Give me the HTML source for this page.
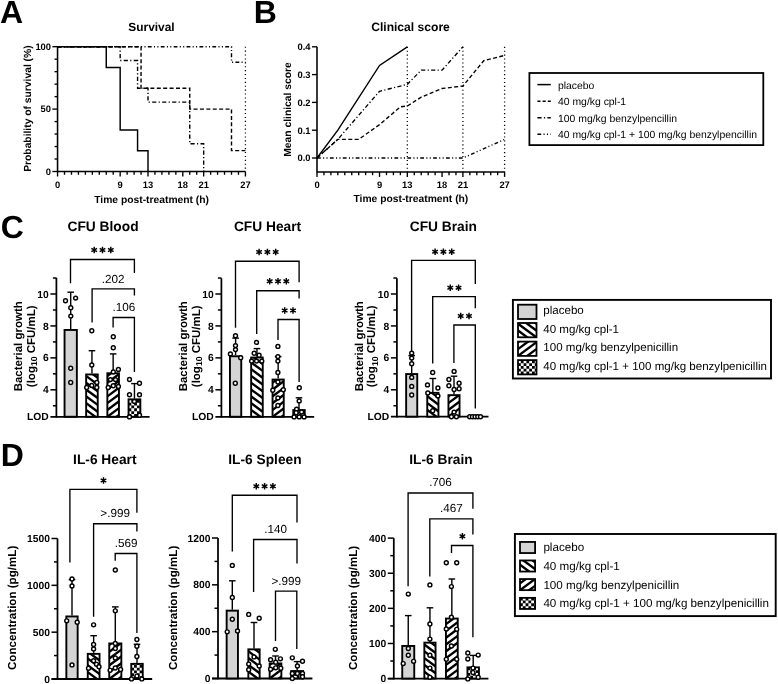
<!DOCTYPE html>
<html><head><meta charset="utf-8"><title>Figure</title>
<style>
html,body{margin:0;padding:0;background:#fff;width:778px;height:684px;overflow:hidden}
svg{display:block;filter:grayscale(1)}
text{font-family:"Liberation Sans",sans-serif;fill:#000;stroke:none;text-rendering:geometricPrecision}
</style></head><body>
<svg width="778" height="684" viewBox="0 0 778 684" stroke="#000" stroke-linecap="butt">

<rect width="778" height="684" fill="#fff" stroke="none"/>
<g>
<text x="0" y="22.9" text-anchor="start" style="font-size:32px;font-weight:bold" >A</text>
<text x="253.8" y="22.9" text-anchor="start" style="font-size:32px;font-weight:bold" >B</text>
<text x="0.8" y="238.1" text-anchor="start" style="font-size:32px;font-weight:bold" >C</text>
<text x="0.7" y="465.7" text-anchor="start" style="font-size:32px;font-weight:bold" >D</text>
<line x1="57.55" y1="46.7" x2="57.55" y2="172.2" stroke-width="1.55" />
<line x1="52.35" y1="171.5" x2="57.55" y2="171.5" stroke-width="1.35" />
<text x="51.05" y="174.8" text-anchor="end" style="font-size:9.4px;font-weight:bold" >0</text>
<line x1="54.55" y1="159.02" x2="57.55" y2="159.02" stroke-width="1.35" />
<line x1="54.55" y1="146.54" x2="57.55" y2="146.54" stroke-width="1.35" />
<line x1="54.55" y1="134.06" x2="57.55" y2="134.06" stroke-width="1.35" />
<line x1="54.55" y1="121.58" x2="57.55" y2="121.58" stroke-width="1.35" />
<line x1="52.35" y1="109.1" x2="57.55" y2="109.1" stroke-width="1.35" />
<text x="51.05" y="112.4" text-anchor="end" style="font-size:9.4px;font-weight:bold" >50</text>
<line x1="54.55" y1="96.62" x2="57.55" y2="96.62" stroke-width="1.35" />
<line x1="54.55" y1="84.14" x2="57.55" y2="84.14" stroke-width="1.35" />
<line x1="54.55" y1="71.66" x2="57.55" y2="71.66" stroke-width="1.35" />
<line x1="54.55" y1="59.18" x2="57.55" y2="59.18" stroke-width="1.35" />
<line x1="52.35" y1="46.7" x2="57.55" y2="46.7" stroke-width="1.35" />
<text x="51.05" y="50" text-anchor="end" style="font-size:9.4px;font-weight:bold" >100</text>
<line x1="57.55" y1="171.5" x2="245.42" y2="171.5" stroke-width="1.55" />
<line x1="57.55" y1="171.5" x2="57.55" y2="176.5" stroke-width="1.35" />
<text x="57.55" y="187.8" text-anchor="middle" style="font-size:9.4px;font-weight:bold" >0</text>
<line x1="64.51" y1="171.5" x2="64.51" y2="174.8" stroke-width="1.35" />
<line x1="71.47" y1="171.5" x2="71.47" y2="174.8" stroke-width="1.35" />
<line x1="78.42" y1="171.5" x2="78.42" y2="174.8" stroke-width="1.35" />
<line x1="85.38" y1="171.5" x2="85.38" y2="174.8" stroke-width="1.35" />
<line x1="92.34" y1="171.5" x2="92.34" y2="174.8" stroke-width="1.35" />
<line x1="99.3" y1="171.5" x2="99.3" y2="174.8" stroke-width="1.35" />
<line x1="106.26" y1="171.5" x2="106.26" y2="174.8" stroke-width="1.35" />
<line x1="113.21" y1="171.5" x2="113.21" y2="174.8" stroke-width="1.35" />
<line x1="120.17" y1="171.5" x2="120.17" y2="176.5" stroke-width="1.35" />
<text x="120.17" y="187.8" text-anchor="middle" style="font-size:9.4px;font-weight:bold" >9</text>
<line x1="127.13" y1="171.5" x2="127.13" y2="174.8" stroke-width="1.35" />
<line x1="134.09" y1="171.5" x2="134.09" y2="174.8" stroke-width="1.35" />
<line x1="141.05" y1="171.5" x2="141.05" y2="174.8" stroke-width="1.35" />
<line x1="148" y1="171.5" x2="148" y2="176.5" stroke-width="1.35" />
<text x="148" y="187.8" text-anchor="middle" style="font-size:9.4px;font-weight:bold" >13</text>
<line x1="154.96" y1="171.5" x2="154.96" y2="174.8" stroke-width="1.35" />
<line x1="161.92" y1="171.5" x2="161.92" y2="174.8" stroke-width="1.35" />
<line x1="168.88" y1="171.5" x2="168.88" y2="174.8" stroke-width="1.35" />
<line x1="175.84" y1="171.5" x2="175.84" y2="174.8" stroke-width="1.35" />
<line x1="182.79" y1="171.5" x2="182.79" y2="176.5" stroke-width="1.35" />
<text x="182.79" y="187.8" text-anchor="middle" style="font-size:9.4px;font-weight:bold" >18</text>
<line x1="189.75" y1="171.5" x2="189.75" y2="174.8" stroke-width="1.35" />
<line x1="196.71" y1="171.5" x2="196.71" y2="174.8" stroke-width="1.35" />
<line x1="203.67" y1="171.5" x2="203.67" y2="176.5" stroke-width="1.35" />
<text x="203.67" y="187.8" text-anchor="middle" style="font-size:9.4px;font-weight:bold" >21</text>
<line x1="210.63" y1="171.5" x2="210.63" y2="174.8" stroke-width="1.35" />
<line x1="217.58" y1="171.5" x2="217.58" y2="174.8" stroke-width="1.35" />
<line x1="224.54" y1="171.5" x2="224.54" y2="174.8" stroke-width="1.35" />
<line x1="231.5" y1="171.5" x2="231.5" y2="174.8" stroke-width="1.35" />
<line x1="238.46" y1="171.5" x2="238.46" y2="174.8" stroke-width="1.35" />
<line x1="245.42" y1="171.5" x2="245.42" y2="176.5" stroke-width="1.35" />
<text x="245.42" y="187.8" text-anchor="middle" style="font-size:9.4px;font-weight:bold" >27</text>
<text x="151.6" y="202.6" text-anchor="middle" style="font-size:10.3px;font-weight:bold" >Time post-treatment (h)</text>
<text x="30.6" y="108.6" text-anchor="middle" style="font-size:10.3px;font-weight:bold" transform="rotate(-90 30.6 108.6)" >Probability of survival (%)</text>
<text x="151.5" y="30.6" text-anchor="middle" style="font-size:11.9px;font-weight:bold" >Survival</text>
<line x1="245.42" y1="46.7" x2="245.42" y2="171.5" stroke-width="1.3" stroke-dasharray="1.1 2.8"/>
<polyline points="57.55,46.7 231.5,46.7 231.5,62.3 245.42,62.3 245.42,62.3" fill="none" stroke-width="1.4" stroke-dasharray="3.8 2.3 1.1 2.3 1.1 2.3" />
<polyline points="57.55,46.7 120.17,46.7 120.17,60.55 137.57,60.55 137.57,88.26 148,88.26 148,102.11 189.75,102.11 189.75,143.79 203.67,143.79 203.67,171.5" fill="none" stroke-width="1.4" stroke-dasharray="4.2 2.3 1.2 2.3" />
<polyline points="57.55,46.7 141.05,46.7 141.05,88.26 189.75,88.26 189.75,109.1 231.5,109.1 231.5,150.66 245.42,150.66 245.42,150.66" fill="none" stroke-width="1.4" stroke-dasharray="4 2.4" />
<polyline points="57.55,46.7 106.26,46.7 106.26,67.54 120.17,67.54 120.17,129.94 137.57,129.94 137.57,150.66 148,150.66 148,171.5" fill="none" stroke-width="1.45" />
<line x1="317" y1="46.8" x2="317" y2="172.6" stroke-width="1.55" />
<line x1="312" y1="158" x2="317" y2="158" stroke-width="1.35" />
<text x="310.6" y="161.3" text-anchor="end" style="font-size:9.4px;font-weight:bold" >0.0</text>
<line x1="312" y1="130.2" x2="317" y2="130.2" stroke-width="1.35" />
<text x="310.6" y="133.5" text-anchor="end" style="font-size:9.4px;font-weight:bold" >0.1</text>
<line x1="312" y1="102.4" x2="317" y2="102.4" stroke-width="1.35" />
<text x="310.6" y="105.7" text-anchor="end" style="font-size:9.4px;font-weight:bold" >0.2</text>
<line x1="312" y1="74.6" x2="317" y2="74.6" stroke-width="1.35" />
<text x="310.6" y="77.9" text-anchor="end" style="font-size:9.4px;font-weight:bold" >0.3</text>
<line x1="312" y1="46.8" x2="317" y2="46.8" stroke-width="1.35" />
<text x="310.6" y="50.1" text-anchor="end" style="font-size:9.4px;font-weight:bold" >0.4</text>
<line x1="317" y1="171.9" x2="504.6" y2="171.9" stroke-width="1.55" />
<line x1="317" y1="171.9" x2="317" y2="176.9" stroke-width="1.35" />
<text x="317" y="187.8" text-anchor="middle" style="font-size:9.4px;font-weight:bold" >0</text>
<line x1="323.95" y1="171.9" x2="323.95" y2="175.2" stroke-width="1.35" />
<line x1="330.9" y1="171.9" x2="330.9" y2="175.2" stroke-width="1.35" />
<line x1="337.84" y1="171.9" x2="337.84" y2="175.2" stroke-width="1.35" />
<line x1="344.79" y1="171.9" x2="344.79" y2="175.2" stroke-width="1.35" />
<line x1="351.74" y1="171.9" x2="351.74" y2="175.2" stroke-width="1.35" />
<line x1="358.69" y1="171.9" x2="358.69" y2="175.2" stroke-width="1.35" />
<line x1="365.64" y1="171.9" x2="365.64" y2="175.2" stroke-width="1.35" />
<line x1="372.58" y1="171.9" x2="372.58" y2="175.2" stroke-width="1.35" />
<line x1="379.53" y1="171.9" x2="379.53" y2="176.9" stroke-width="1.35" />
<text x="379.53" y="187.8" text-anchor="middle" style="font-size:9.4px;font-weight:bold" >9</text>
<line x1="386.48" y1="171.9" x2="386.48" y2="175.2" stroke-width="1.35" />
<line x1="393.43" y1="171.9" x2="393.43" y2="175.2" stroke-width="1.35" />
<line x1="400.38" y1="171.9" x2="400.38" y2="175.2" stroke-width="1.35" />
<line x1="407.32" y1="171.9" x2="407.32" y2="176.9" stroke-width="1.35" />
<text x="407.32" y="187.8" text-anchor="middle" style="font-size:9.4px;font-weight:bold" >13</text>
<line x1="414.27" y1="171.9" x2="414.27" y2="175.2" stroke-width="1.35" />
<line x1="421.22" y1="171.9" x2="421.22" y2="175.2" stroke-width="1.35" />
<line x1="428.17" y1="171.9" x2="428.17" y2="175.2" stroke-width="1.35" />
<line x1="435.12" y1="171.9" x2="435.12" y2="175.2" stroke-width="1.35" />
<line x1="442.06" y1="171.9" x2="442.06" y2="176.9" stroke-width="1.35" />
<text x="442.06" y="187.8" text-anchor="middle" style="font-size:9.4px;font-weight:bold" >18</text>
<line x1="449.01" y1="171.9" x2="449.01" y2="175.2" stroke-width="1.35" />
<line x1="455.96" y1="171.9" x2="455.96" y2="175.2" stroke-width="1.35" />
<line x1="462.91" y1="171.9" x2="462.91" y2="176.9" stroke-width="1.35" />
<text x="462.91" y="187.8" text-anchor="middle" style="font-size:9.4px;font-weight:bold" >21</text>
<line x1="469.86" y1="171.9" x2="469.86" y2="175.2" stroke-width="1.35" />
<line x1="476.8" y1="171.9" x2="476.8" y2="175.2" stroke-width="1.35" />
<line x1="483.75" y1="171.9" x2="483.75" y2="175.2" stroke-width="1.35" />
<line x1="490.7" y1="171.9" x2="490.7" y2="175.2" stroke-width="1.35" />
<line x1="497.65" y1="171.9" x2="497.65" y2="175.2" stroke-width="1.35" />
<line x1="504.6" y1="171.9" x2="504.6" y2="176.9" stroke-width="1.35" />
<text x="504.6" y="187.8" text-anchor="middle" style="font-size:9.4px;font-weight:bold" >27</text>
<text x="410.9" y="202.3" text-anchor="middle" style="font-size:10.3px;font-weight:bold" >Time post-treatment (h)</text>
<text x="291.4" y="109.5" text-anchor="middle" style="font-size:10.3px;font-weight:bold" transform="rotate(-90 291.4 109.5)" >Mean clinical score</text>
<text x="410.5" y="30.9" text-anchor="middle" style="font-size:12.1px;font-weight:bold" >Clinical score</text>
<line x1="407.32" y1="46.8" x2="407.32" y2="171.9" stroke-width="1.3" stroke-dasharray="1.1 2.8"/>
<line x1="462.91" y1="46.8" x2="462.91" y2="171.9" stroke-width="1.3" stroke-dasharray="1.1 2.8"/>
<line x1="504.6" y1="46.8" x2="504.6" y2="171.9" stroke-width="1.3" stroke-dasharray="1.1 2.8"/>
<polyline points="317,158 462.91,158 504.6,139.37" fill="none" stroke-width="1.35" stroke-dasharray="3.8 2.3 1.1 2.3 1.1 2.3" />
<polyline points="317,158 337.84,139.37 379.53,91.28 407.32,84.33 421.22,70.15 442.06,70.15 462.91,46.8" fill="none" stroke-width="1.35" stroke-dasharray="4.2 2.3 1.2 2.3" />
<polyline points="317,158 337.84,139.37 358.69,139.37 379.53,124.64 400.38,106.85 407.32,106.01 421.22,97.12 442.06,88.5 462.91,86 483.75,60.7 504.6,55.42" fill="none" stroke-width="1.35" stroke-dasharray="4 2.4" />
<polyline points="317,158 337.84,130.2 379.53,65.43 407.32,46.8" fill="none" stroke-width="1.4" />
<rect x="529.4" y="73" width="233.9" height="72.1" fill="none" stroke-width="1.8"/>
<line x1="537.4" y1="84.6" x2="550.8" y2="84.6" stroke-width="1.5" />
<text x="558" y="88.6" text-anchor="start" style="font-size:10.4px" >placebo</text>
<line x1="537.4" y1="101.3" x2="550.8" y2="101.3" stroke-width="1.5" stroke-dasharray="3.1 2.1"/>
<text x="558" y="105.1" text-anchor="start" style="font-size:10.4px" >40 mg/kg cpl-1</text>
<line x1="537.4" y1="117.7" x2="550.8" y2="117.7" stroke-width="1.5" stroke-dasharray="4.2 2.3 1.2 2.3"/>
<text x="558" y="121.7" text-anchor="start" style="font-size:10.4px" >100 mg/kg benzylpencillin</text>
<line x1="537.4" y1="134.3" x2="550.8" y2="134.3" stroke-width="1.5" stroke-dasharray="3.8 2.3 1.1 2.3 1.1 2.3"/>
<text x="558" y="138" text-anchor="start" style="font-size:10.4px" >40 mg/kg cpl-1 + 100 mg/kg benzylpencillin</text>
<line x1="56.4" y1="277.8" x2="56.4" y2="417.6" stroke-width="1.75" />
<line x1="50.4" y1="416.8" x2="149.6" y2="416.8" stroke-width="1.8" />
<line x1="50.4" y1="294" x2="56.4" y2="294" stroke-width="1.5" />
<text x="48.8" y="297.6" text-anchor="end" style="font-size:10.3px;font-weight:bold" >10</text>
<line x1="50.4" y1="325.93" x2="56.4" y2="325.93" stroke-width="1.5" />
<text x="48.8" y="329.53" text-anchor="end" style="font-size:10.3px;font-weight:bold" >8</text>
<line x1="50.4" y1="357.87" x2="56.4" y2="357.87" stroke-width="1.5" />
<text x="48.8" y="361.47" text-anchor="end" style="font-size:10.3px;font-weight:bold" >6</text>
<line x1="50.4" y1="389.8" x2="56.4" y2="389.8" stroke-width="1.5" />
<text x="48.8" y="393.4" text-anchor="end" style="font-size:10.3px;font-weight:bold" >4</text>
<line x1="52.9" y1="278.03" x2="56.4" y2="278.03" stroke-width="1.5" />
<line x1="52.9" y1="309.97" x2="56.4" y2="309.97" stroke-width="1.5" />
<line x1="52.9" y1="341.9" x2="56.4" y2="341.9" stroke-width="1.5" />
<line x1="52.9" y1="373.83" x2="56.4" y2="373.83" stroke-width="1.5" />
<line x1="52.9" y1="405.77" x2="56.4" y2="405.77" stroke-width="1.5" />
<line x1="70.7" y1="329" x2="70.7" y2="292.2" stroke-width="1.4" />
<line x1="67.4" y1="292.2" x2="74" y2="292.2" stroke-width="1.4" />
<rect x="64.55" y="329.95" width="12.3" height="86.8" fill="#d4d4d4" stroke-width="1.9"/>
<line x1="91.95" y1="373.5" x2="91.95" y2="350.7" stroke-width="1.4" />
<line x1="88.65" y1="350.7" x2="95.25" y2="350.7" stroke-width="1.4" />
<clipPath id="c1"><rect x="86.15" y="374.45" width="11.6" height="42.3"/></clipPath>
<rect x="86.15" y="374.45" width="11.6" height="42.3" fill="#fff" stroke="none"/>
<path clip-path="url(#c1)" d="M84.15,435.67L99.75,447.21M84.15,428.87L99.75,440.41M84.15,422.07L99.75,433.61M84.15,415.27L99.75,426.81M84.15,408.47L99.75,420.01M84.15,401.67L99.75,413.21M84.15,394.87L99.75,406.41M84.15,388.07L99.75,399.61M84.15,381.27L99.75,392.81M84.15,374.47L99.75,386.01M84.15,367.67L99.75,379.21M84.15,360.87L99.75,372.41M84.15,354.07L99.75,365.61" stroke-width="2.35" fill="none"/>
<rect x="86.15" y="374.45" width="11.6" height="42.3" fill="none" stroke-width="1.9"/>
<line x1="113.15" y1="372.3" x2="113.15" y2="353.9" stroke-width="1.4" />
<line x1="109.85" y1="353.9" x2="116.45" y2="353.9" stroke-width="1.4" />
<clipPath id="c2"><rect x="107.35" y="373.25" width="11.6" height="43.5"/></clipPath>
<rect x="107.35" y="373.25" width="11.6" height="43.5" fill="#fff" stroke="none"/>
<path clip-path="url(#c2)" d="M105.35,438.63L120.95,427.09M105.35,431.83L120.95,420.29M105.35,425.03L120.95,413.49M105.35,418.23L120.95,406.69M105.35,411.43L120.95,399.89M105.35,404.63L120.95,393.09M105.35,397.83L120.95,386.29M105.35,391.03L120.95,379.49M105.35,384.23L120.95,372.69M105.35,377.43L120.95,365.89M105.35,370.63L120.95,359.09M105.35,363.83L120.95,352.29M105.35,357.03L120.95,345.49" stroke-width="2.35" fill="none"/>
<rect x="107.35" y="373.25" width="11.6" height="43.5" fill="none" stroke-width="1.9"/>
<line x1="134.45" y1="398.4" x2="134.45" y2="383.6" stroke-width="1.4" />
<line x1="131.15" y1="383.6" x2="137.75" y2="383.6" stroke-width="1.4" />
<clipPath id="c3"><rect x="128.55" y="399.35" width="11.8" height="17.4"/></clipPath>
<rect x="128.55" y="399.35" width="11.8" height="17.4" fill="#fff" stroke="none"/>
<path clip-path="url(#c3)" d="M125.75,394.35h2.8v2.8h-2.8zM131.35,394.35h2.8v2.8h-2.8zM136.95,394.35h2.8v2.8h-2.8zM128.55,397.15h2.8v2.8h-2.8zM134.15,397.15h2.8v2.8h-2.8zM139.75,397.15h2.8v2.8h-2.8zM125.75,399.95h2.8v2.8h-2.8zM131.35,399.95h2.8v2.8h-2.8zM136.95,399.95h2.8v2.8h-2.8zM128.55,402.75h2.8v2.8h-2.8zM134.15,402.75h2.8v2.8h-2.8zM139.75,402.75h2.8v2.8h-2.8zM125.75,405.55h2.8v2.8h-2.8zM131.35,405.55h2.8v2.8h-2.8zM136.95,405.55h2.8v2.8h-2.8zM128.55,408.35h2.8v2.8h-2.8zM134.15,408.35h2.8v2.8h-2.8zM139.75,408.35h2.8v2.8h-2.8zM125.75,411.15h2.8v2.8h-2.8zM131.35,411.15h2.8v2.8h-2.8zM136.95,411.15h2.8v2.8h-2.8zM128.55,413.95h2.8v2.8h-2.8zM134.15,413.95h2.8v2.8h-2.8zM139.75,413.95h2.8v2.8h-2.8z" fill="#000" stroke="none"/>
<rect x="128.55" y="399.35" width="11.8" height="17.4" fill="none" stroke-width="1.9"/>
<circle cx="65.5" cy="300.7" r="1.95" fill="#fff" stroke-width="1.45"/>
<circle cx="75.6" cy="298.1" r="1.95" fill="#fff" stroke-width="1.45"/>
<circle cx="70.8" cy="307.7" r="1.95" fill="#fff" stroke-width="1.45"/>
<circle cx="70.8" cy="316.1" r="1.95" fill="#fff" stroke-width="1.45"/>
<circle cx="70.7" cy="368.2" r="1.95" fill="#fff" stroke-width="1.45"/>
<circle cx="70.7" cy="382.5" r="1.95" fill="#fff" stroke-width="1.45"/>
<circle cx="91.8" cy="330.7" r="1.95" fill="#fff" stroke-width="1.45"/>
<circle cx="91.8" cy="365" r="1.95" fill="#fff" stroke-width="1.45"/>
<circle cx="86.7" cy="387.5" r="1.95" fill="#fff" stroke-width="1.45"/>
<circle cx="91.8" cy="385.4" r="1.95" fill="#fff" stroke-width="1.45"/>
<circle cx="96.8" cy="382.5" r="1.95" fill="#fff" stroke-width="1.45"/>
<circle cx="96.8" cy="387.5" r="1.95" fill="#fff" stroke-width="1.45"/>
<circle cx="113.3" cy="336.8" r="1.95" fill="#fff" stroke-width="1.45"/>
<circle cx="113.3" cy="347.8" r="1.95" fill="#fff" stroke-width="1.45"/>
<circle cx="113.3" cy="371.9" r="1.95" fill="#fff" stroke-width="1.45"/>
<circle cx="118.4" cy="369.4" r="1.95" fill="#fff" stroke-width="1.45"/>
<circle cx="110.4" cy="379.6" r="1.95" fill="#fff" stroke-width="1.45"/>
<circle cx="115.5" cy="379.6" r="1.95" fill="#fff" stroke-width="1.45"/>
<circle cx="108.2" cy="387.5" r="1.95" fill="#fff" stroke-width="1.45"/>
<circle cx="113.3" cy="385.7" r="1.95" fill="#fff" stroke-width="1.45"/>
<circle cx="118.4" cy="386.5" r="1.95" fill="#fff" stroke-width="1.45"/>
<circle cx="129.5" cy="379.5" r="1.95" fill="#fff" stroke-width="1.45"/>
<circle cx="139.5" cy="383.3" r="1.95" fill="#fff" stroke-width="1.45"/>
<circle cx="129.5" cy="394.7" r="1.95" fill="#fff" stroke-width="1.45"/>
<circle cx="139.5" cy="394.7" r="1.95" fill="#fff" stroke-width="1.45"/>
<circle cx="134.4" cy="401.4" r="1.95" fill="#fff" stroke-width="1.45"/>
<circle cx="129.5" cy="416.9" r="1.95" fill="#fff" stroke-width="1.45"/>
<circle cx="139.5" cy="415.3" r="1.95" fill="#fff" stroke-width="1.45"/>
<polyline points="70.5,283.3 70.5,259.5 134.4,259.5 134.4,273" fill="none" stroke-width="1.35" />
<path d="M94.2,246.85L94.2,253.35M91.39,248.47L97.01,251.72M91.39,251.72L97.01,248.47" stroke-width="1.45" fill="none"/><circle cx="94.2" cy="250.1" r="1.05" stroke="none"/>
<path d="M102.5,246.85L102.5,253.35M99.69,248.47L105.31,251.72M99.69,251.72L105.31,248.47" stroke-width="1.45" fill="none"/><circle cx="102.5" cy="250.1" r="1.05" stroke="none"/>
<path d="M110.8,246.85L110.8,253.35M107.99,248.47L113.61,251.72M107.99,251.72L113.61,248.47" stroke-width="1.45" fill="none"/><circle cx="110.8" cy="250.1" r="1.05" stroke="none"/>
<polyline points="92.1,322.5 92.1,288.9 134.4,288.9 134.4,295.5" fill="none" stroke-width="1.35" />
<text x="113.2" y="282.6" text-anchor="middle" style="font-size:11.7px" >.202</text>
<polyline points="113.1,327.5 113.1,317.5 134.4,317.5 134.4,372" fill="none" stroke-width="1.35" />
<text x="123.8" y="310.9" text-anchor="middle" style="font-size:11.7px" >.106</text>
<text x="103.05" y="230.8" text-anchor="middle" style="font-size:13.75px;font-weight:bold" >CFU Blood</text>
<line x1="221.4" y1="278.2" x2="221.4" y2="417.6" stroke-width="1.75" />
<line x1="215.4" y1="416.8" x2="314.2" y2="416.8" stroke-width="1.8" />
<line x1="215.4" y1="294" x2="221.4" y2="294" stroke-width="1.5" />
<text x="213.8" y="297.6" text-anchor="end" style="font-size:10.3px;font-weight:bold" >10</text>
<line x1="215.4" y1="325.93" x2="221.4" y2="325.93" stroke-width="1.5" />
<text x="213.8" y="329.53" text-anchor="end" style="font-size:10.3px;font-weight:bold" >8</text>
<line x1="215.4" y1="357.87" x2="221.4" y2="357.87" stroke-width="1.5" />
<text x="213.8" y="361.47" text-anchor="end" style="font-size:10.3px;font-weight:bold" >6</text>
<line x1="215.4" y1="389.8" x2="221.4" y2="389.8" stroke-width="1.5" />
<text x="213.8" y="393.4" text-anchor="end" style="font-size:10.3px;font-weight:bold" >4</text>
<line x1="217.9" y1="278.03" x2="221.4" y2="278.03" stroke-width="1.5" />
<line x1="217.9" y1="309.97" x2="221.4" y2="309.97" stroke-width="1.5" />
<line x1="217.9" y1="341.9" x2="221.4" y2="341.9" stroke-width="1.5" />
<line x1="217.9" y1="373.83" x2="221.4" y2="373.83" stroke-width="1.5" />
<line x1="217.9" y1="405.77" x2="221.4" y2="405.77" stroke-width="1.5" />
<line x1="235.6" y1="355.3" x2="235.6" y2="338.1" stroke-width="1.4" />
<line x1="232.3" y1="338.1" x2="238.9" y2="338.1" stroke-width="1.4" />
<rect x="229.95" y="356.25" width="11.3" height="60.5" fill="#d4d4d4" stroke-width="1.9"/>
<line x1="256.95" y1="356.6" x2="256.95" y2="348.6" stroke-width="1.4" />
<line x1="253.65" y1="348.6" x2="260.25" y2="348.6" stroke-width="1.4" />
<clipPath id="c4"><rect x="251.15" y="357.55" width="11.6" height="59.2"/></clipPath>
<rect x="251.15" y="357.55" width="11.6" height="59.2" fill="#fff" stroke="none"/>
<path clip-path="url(#c4)" d="M249.15,435.67L264.75,447.21M249.15,428.87L264.75,440.41M249.15,422.07L264.75,433.61M249.15,415.27L264.75,426.81M249.15,408.47L264.75,420.01M249.15,401.67L264.75,413.21M249.15,394.87L264.75,406.41M249.15,388.07L264.75,399.61M249.15,381.27L264.75,392.81M249.15,374.47L264.75,386.01M249.15,367.67L264.75,379.21M249.15,360.87L264.75,372.41M249.15,354.07L264.75,365.61M249.15,347.27L264.75,358.81M249.15,340.47L264.75,352.01" stroke-width="2.35" fill="none"/>
<rect x="251.15" y="357.55" width="11.6" height="59.2" fill="none" stroke-width="1.9"/>
<line x1="278.15" y1="378.6" x2="278.15" y2="356.6" stroke-width="1.4" />
<line x1="274.85" y1="356.6" x2="281.45" y2="356.6" stroke-width="1.4" />
<clipPath id="c5"><rect x="272.55" y="379.55" width="11.2" height="37.2"/></clipPath>
<rect x="272.55" y="379.55" width="11.2" height="37.2" fill="#fff" stroke="none"/>
<path clip-path="url(#c5)" d="M270.55,438.63L285.75,427.38M270.55,431.83L285.75,420.58M270.55,425.03L285.75,413.78M270.55,418.23L285.75,406.98M270.55,411.43L285.75,400.18M270.55,404.63L285.75,393.38M270.55,397.83L285.75,386.58M270.55,391.03L285.75,379.78M270.55,384.23L285.75,372.98M270.55,377.43L285.75,366.18M270.55,370.63L285.75,359.38M270.55,363.83L285.75,352.58" stroke-width="2.35" fill="none"/>
<rect x="272.55" y="379.55" width="11.2" height="37.2" fill="none" stroke-width="1.9"/>
<line x1="299" y1="409.1" x2="299" y2="397.8" stroke-width="1.4" />
<line x1="295.7" y1="397.8" x2="302.3" y2="397.8" stroke-width="1.4" />
<clipPath id="c6"><rect x="293.25" y="410.05" width="11.5" height="6.7"/></clipPath>
<rect x="293.25" y="410.05" width="11.5" height="6.7" fill="#fff" stroke="none"/>
<path clip-path="url(#c6)" d="M290.45,405.55h2.8v2.8h-2.8zM296.05,405.55h2.8v2.8h-2.8zM301.65,405.55h2.8v2.8h-2.8zM293.25,408.35h2.8v2.8h-2.8zM298.85,408.35h2.8v2.8h-2.8zM304.45,408.35h2.8v2.8h-2.8zM290.45,411.15h2.8v2.8h-2.8zM296.05,411.15h2.8v2.8h-2.8zM301.65,411.15h2.8v2.8h-2.8zM293.25,413.95h2.8v2.8h-2.8zM298.85,413.95h2.8v2.8h-2.8zM304.45,413.95h2.8v2.8h-2.8z" fill="#000" stroke="none"/>
<rect x="293.25" y="410.05" width="11.5" height="6.7" fill="none" stroke-width="1.9"/>
<circle cx="235.5" cy="335.8" r="1.95" fill="#fff" stroke-width="1.45"/>
<circle cx="235.5" cy="345.6" r="1.95" fill="#fff" stroke-width="1.45"/>
<circle cx="235.5" cy="349.6" r="1.95" fill="#fff" stroke-width="1.45"/>
<circle cx="230.4" cy="353.9" r="1.95" fill="#fff" stroke-width="1.45"/>
<circle cx="240.7" cy="357.8" r="1.95" fill="#fff" stroke-width="1.45"/>
<circle cx="235.3" cy="383.3" r="1.95" fill="#fff" stroke-width="1.45"/>
<circle cx="256.5" cy="342.4" r="1.95" fill="#fff" stroke-width="1.45"/>
<circle cx="254.2" cy="353.2" r="1.95" fill="#fff" stroke-width="1.45"/>
<circle cx="259.1" cy="355.2" r="1.95" fill="#fff" stroke-width="1.45"/>
<circle cx="251.6" cy="361.1" r="1.95" fill="#fff" stroke-width="1.45"/>
<circle cx="256.5" cy="361.1" r="1.95" fill="#fff" stroke-width="1.45"/>
<circle cx="261.8" cy="361.1" r="1.95" fill="#fff" stroke-width="1.45"/>
<circle cx="277.9" cy="346.4" r="1.95" fill="#fff" stroke-width="1.45"/>
<circle cx="277.9" cy="356.6" r="1.95" fill="#fff" stroke-width="1.45"/>
<circle cx="277.9" cy="361.1" r="1.95" fill="#fff" stroke-width="1.45"/>
<circle cx="277.9" cy="372.5" r="1.95" fill="#fff" stroke-width="1.45"/>
<circle cx="277.9" cy="382" r="1.95" fill="#fff" stroke-width="1.45"/>
<circle cx="272.8" cy="390.3" r="1.95" fill="#fff" stroke-width="1.45"/>
<circle cx="283.3" cy="389.7" r="1.95" fill="#fff" stroke-width="1.45"/>
<circle cx="277.9" cy="397.9" r="1.95" fill="#fff" stroke-width="1.45"/>
<circle cx="277.9" cy="405.5" r="1.95" fill="#fff" stroke-width="1.45"/>
<circle cx="299.3" cy="387.8" r="1.95" fill="#fff" stroke-width="1.45"/>
<circle cx="299.2" cy="400.9" r="1.95" fill="#fff" stroke-width="1.45"/>
<circle cx="296.6" cy="409.1" r="1.95" fill="#fff" stroke-width="1.45"/>
<circle cx="296.2" cy="412.7" r="1.95" fill="#fff" stroke-width="1.45"/>
<circle cx="301.6" cy="412" r="1.95" fill="#fff" stroke-width="1.45"/>
<circle cx="294.1" cy="416.9" r="1.95" fill="#fff" stroke-width="1.45"/>
<circle cx="299.2" cy="416.9" r="1.95" fill="#fff" stroke-width="1.45"/>
<circle cx="304.1" cy="416.9" r="1.95" fill="#fff" stroke-width="1.45"/>
<polyline points="235.5,327.8 235.5,261.2 299.1,261.2 299.1,282.2" fill="none" stroke-width="1.35" />
<path d="M259.1,248.75L259.1,255.25M256.29,250.38L261.91,253.62M256.29,253.62L261.91,250.38" stroke-width="1.45" fill="none"/><circle cx="259.1" cy="252" r="1.05" stroke="none"/>
<path d="M267.4,248.75L267.4,255.25M264.59,250.38L270.21,253.62M264.59,253.62L270.21,250.38" stroke-width="1.45" fill="none"/><circle cx="267.4" cy="252" r="1.05" stroke="none"/>
<path d="M275.7,248.75L275.7,255.25M272.89,250.38L278.51,253.62M272.89,253.62L278.51,250.38" stroke-width="1.45" fill="none"/><circle cx="275.7" cy="252" r="1.05" stroke="none"/>
<polyline points="256.7,334.1 256.7,290.7 299.1,290.7 299.1,298.4" fill="none" stroke-width="1.35" />
<path d="M269.7,277.95L269.7,284.45M266.89,279.57L272.51,282.82M266.89,282.82L272.51,279.57" stroke-width="1.45" fill="none"/><circle cx="269.7" cy="281.2" r="1.05" stroke="none"/>
<path d="M278,277.95L278,284.45M275.19,279.57L280.81,282.82M275.19,282.82L280.81,279.57" stroke-width="1.45" fill="none"/><circle cx="278" cy="281.2" r="1.05" stroke="none"/>
<path d="M286.3,277.95L286.3,284.45M283.49,279.57L289.11,282.82M283.49,282.82L289.11,279.57" stroke-width="1.45" fill="none"/><circle cx="286.3" cy="281.2" r="1.05" stroke="none"/>
<polyline points="278,340 278,319.5 299.1,319.5 299.1,382" fill="none" stroke-width="1.35" />
<path d="M284.7,307.35L284.7,313.85M281.89,308.98L287.51,312.23M281.89,312.23L287.51,308.98" stroke-width="1.45" fill="none"/><circle cx="284.7" cy="310.6" r="1.05" stroke="none"/>
<path d="M293,307.35L293,313.85M290.19,308.98L295.81,312.23M290.19,312.23L295.81,308.98" stroke-width="1.45" fill="none"/><circle cx="293" cy="310.6" r="1.05" stroke="none"/>
<text x="267.5" y="230.8" text-anchor="middle" style="font-size:13.75px;font-weight:bold" >CFU Heart</text>
<line x1="396.9" y1="278.2" x2="396.9" y2="417.5" stroke-width="1.75" />
<line x1="390.9" y1="416.7" x2="488.5" y2="416.7" stroke-width="1.8" />
<line x1="390.9" y1="294" x2="396.9" y2="294" stroke-width="1.5" />
<text x="389.3" y="297.6" text-anchor="end" style="font-size:10.3px;font-weight:bold" >10</text>
<line x1="390.9" y1="325.93" x2="396.9" y2="325.93" stroke-width="1.5" />
<text x="389.3" y="329.53" text-anchor="end" style="font-size:10.3px;font-weight:bold" >8</text>
<line x1="390.9" y1="357.87" x2="396.9" y2="357.87" stroke-width="1.5" />
<text x="389.3" y="361.47" text-anchor="end" style="font-size:10.3px;font-weight:bold" >6</text>
<line x1="390.9" y1="389.8" x2="396.9" y2="389.8" stroke-width="1.5" />
<text x="389.3" y="393.4" text-anchor="end" style="font-size:10.3px;font-weight:bold" >4</text>
<line x1="393.4" y1="278.03" x2="396.9" y2="278.03" stroke-width="1.5" />
<line x1="393.4" y1="309.97" x2="396.9" y2="309.97" stroke-width="1.5" />
<line x1="393.4" y1="341.9" x2="396.9" y2="341.9" stroke-width="1.5" />
<line x1="393.4" y1="373.83" x2="396.9" y2="373.83" stroke-width="1.5" />
<line x1="393.4" y1="405.77" x2="396.9" y2="405.77" stroke-width="1.5" />
<line x1="411.7" y1="373.1" x2="411.7" y2="355.6" stroke-width="1.4" />
<line x1="408.4" y1="355.6" x2="415" y2="355.6" stroke-width="1.4" />
<rect x="406.15" y="374.05" width="11.1" height="42.6" fill="#d4d4d4" stroke-width="1.9"/>
<line x1="432.85" y1="391.9" x2="432.85" y2="378.5" stroke-width="1.4" />
<line x1="429.55" y1="378.5" x2="436.15" y2="378.5" stroke-width="1.4" />
<clipPath id="c7"><rect x="427.25" y="392.85" width="11.2" height="23.8"/></clipPath>
<rect x="427.25" y="392.85" width="11.2" height="23.8" fill="#fff" stroke="none"/>
<path clip-path="url(#c7)" d="M425.25,435.57L440.45,446.82M425.25,428.77L440.45,440.02M425.25,421.97L440.45,433.22M425.25,415.17L440.45,426.42M425.25,408.37L440.45,419.62M425.25,401.57L440.45,412.82M425.25,394.77L440.45,406.02M425.25,387.97L440.45,399.22M425.25,381.17L440.45,392.42M425.25,374.37L440.45,385.62" stroke-width="2.35" fill="none"/>
<rect x="427.25" y="392.85" width="11.2" height="23.8" fill="none" stroke-width="1.9"/>
<line x1="454" y1="394.2" x2="454" y2="376.2" stroke-width="1.4" />
<line x1="450.7" y1="376.2" x2="457.3" y2="376.2" stroke-width="1.4" />
<clipPath id="c8"><rect x="448.45" y="395.15" width="11.1" height="21.5"/></clipPath>
<rect x="448.45" y="395.15" width="11.1" height="21.5" fill="#fff" stroke="none"/>
<path clip-path="url(#c8)" d="M446.45,438.53L461.55,427.36M446.45,431.73L461.55,420.56M446.45,424.93L461.55,413.76M446.45,418.13L461.55,406.96M446.45,411.33L461.55,400.16M446.45,404.53L461.55,393.36M446.45,397.73L461.55,386.56M446.45,390.93L461.55,379.76M446.45,384.13L461.55,372.96" stroke-width="2.35" fill="none"/>
<rect x="448.45" y="395.15" width="11.1" height="21.5" fill="none" stroke-width="1.9"/>
<circle cx="411.7" cy="353.1" r="1.95" fill="#fff" stroke-width="1.45"/>
<circle cx="411.7" cy="358.1" r="1.95" fill="#fff" stroke-width="1.45"/>
<circle cx="411.7" cy="363.7" r="1.95" fill="#fff" stroke-width="1.45"/>
<circle cx="411.7" cy="377.4" r="1.95" fill="#fff" stroke-width="1.45"/>
<circle cx="411.7" cy="386.4" r="1.95" fill="#fff" stroke-width="1.45"/>
<circle cx="411.7" cy="395" r="1.95" fill="#fff" stroke-width="1.45"/>
<circle cx="432.7" cy="372.5" r="1.95" fill="#fff" stroke-width="1.45"/>
<circle cx="427.5" cy="384.9" r="1.95" fill="#fff" stroke-width="1.45"/>
<circle cx="437.9" cy="388" r="1.95" fill="#fff" stroke-width="1.45"/>
<circle cx="427.8" cy="393" r="1.95" fill="#fff" stroke-width="1.45"/>
<circle cx="437.9" cy="395.9" r="1.95" fill="#fff" stroke-width="1.45"/>
<circle cx="432.7" cy="410.7" r="1.95" fill="#fff" stroke-width="1.45"/>
<circle cx="454.1" cy="371.4" r="1.95" fill="#fff" stroke-width="1.45"/>
<circle cx="448.9" cy="379.5" r="1.95" fill="#fff" stroke-width="1.45"/>
<circle cx="459.1" cy="383.2" r="1.95" fill="#fff" stroke-width="1.45"/>
<circle cx="448.9" cy="385.7" r="1.95" fill="#fff" stroke-width="1.45"/>
<circle cx="459.1" cy="388.7" r="1.95" fill="#fff" stroke-width="1.45"/>
<circle cx="454.1" cy="389.5" r="1.95" fill="#fff" stroke-width="1.45"/>
<circle cx="454.1" cy="412.1" r="1.95" fill="#fff" stroke-width="1.45"/>
<circle cx="451.4" cy="416.7" r="1.95" fill="#fff" stroke-width="1.45"/>
<circle cx="456.4" cy="416.7" r="1.95" fill="#fff" stroke-width="1.45"/>
<circle cx="469.7" cy="416.7" r="1.95" fill="#fff" stroke-width="1.45"/>
<circle cx="472.4" cy="416.7" r="1.95" fill="#fff" stroke-width="1.45"/>
<circle cx="475.1" cy="416.7" r="1.95" fill="#fff" stroke-width="1.45"/>
<circle cx="477.8" cy="416.7" r="1.95" fill="#fff" stroke-width="1.45"/>
<circle cx="480.5" cy="416.7" r="1.95" fill="#fff" stroke-width="1.45"/>
<polyline points="411.6,351.8 411.6,260.4 475.3,260.4 475.3,284.1" fill="none" stroke-width="1.35" />
<path d="M435.1,248.55L435.1,255.05M432.29,250.18L437.91,253.43M432.29,253.43L437.91,250.18" stroke-width="1.45" fill="none"/><circle cx="435.1" cy="251.8" r="1.05" stroke="none"/>
<path d="M443.4,248.55L443.4,255.05M440.59,250.18L446.21,253.43M440.59,253.43L446.21,250.18" stroke-width="1.45" fill="none"/><circle cx="443.4" cy="251.8" r="1.05" stroke="none"/>
<path d="M451.7,248.55L451.7,255.05M448.89,250.18L454.51,253.43M448.89,253.43L454.51,250.18" stroke-width="1.45" fill="none"/><circle cx="451.7" cy="251.8" r="1.05" stroke="none"/>
<polyline points="432.7,363.5 432.7,296.6 475.3,296.6 475.3,308.3" fill="none" stroke-width="1.35" />
<path d="M450.25,284.55L450.25,291.05M447.44,286.18L453.06,289.43M447.44,289.43L453.06,286.18" stroke-width="1.45" fill="none"/><circle cx="450.25" cy="287.8" r="1.05" stroke="none"/>
<path d="M458.55,284.55L458.55,291.05M455.74,286.18L461.36,289.43M455.74,289.43L461.36,286.18" stroke-width="1.45" fill="none"/><circle cx="458.55" cy="287.8" r="1.05" stroke="none"/>
<polyline points="453.9,362.9 453.9,325 475.3,325 475.3,408.4" fill="none" stroke-width="1.35" />
<path d="M460.7,312.75L460.7,319.25M457.89,314.38L463.51,317.62M457.89,317.62L463.51,314.38" stroke-width="1.45" fill="none"/><circle cx="460.7" cy="316" r="1.05" stroke="none"/>
<path d="M469,312.75L469,319.25M466.19,314.38L471.81,317.62M466.19,317.62L471.81,314.38" stroke-width="1.45" fill="none"/><circle cx="469" cy="316" r="1.05" stroke="none"/>
<text x="443.35" y="230.8" text-anchor="middle" style="font-size:13.75px;font-weight:bold" >CFU Brain</text>
<text x="22.5" y="346.3" text-anchor="middle" style="font-size:11.5px;font-weight:bold" transform="rotate(-90 22.5 346.3)" >Bacterial growth</text>
<text x="34.9" y="346.3" text-anchor="middle" style="font-size:11.5px;font-weight:bold" transform="rotate(-90 34.9 346.3)" >(log<tspan style="font-size:8.6px" dy="2.3">10</tspan><tspan dy="-2.3"> CFU/mL)</tspan></text>
<text x="48.8" y="420.4" text-anchor="end" style="font-size:10.3px;font-weight:bold" >LOD</text>
<text x="187.5" y="346.3" text-anchor="middle" style="font-size:11.5px;font-weight:bold" transform="rotate(-90 187.5 346.3)" >Bacterial growth</text>
<text x="199.9" y="346.3" text-anchor="middle" style="font-size:11.5px;font-weight:bold" transform="rotate(-90 199.9 346.3)" >(log<tspan style="font-size:8.6px" dy="2.3">10</tspan><tspan dy="-2.3"> CFU/mL)</tspan></text>
<text x="213.8" y="420.4" text-anchor="end" style="font-size:10.3px;font-weight:bold" >LOD</text>
<text x="363" y="346.3" text-anchor="middle" style="font-size:11.5px;font-weight:bold" transform="rotate(-90 363 346.3)" >Bacterial growth</text>
<text x="375.4" y="346.3" text-anchor="middle" style="font-size:11.5px;font-weight:bold" transform="rotate(-90 375.4 346.3)" >(log<tspan style="font-size:8.6px" dy="2.3">10</tspan><tspan dy="-2.3"> CFU/mL)</tspan></text>
<text x="389.3" y="420.4" text-anchor="end" style="font-size:10.3px;font-weight:bold" >LOD</text>
<rect x="512.9" y="299.9" width="258.1" height="78.6" fill="none" stroke-width="1.9"/>
<rect x="518" y="304.7" width="18.5" height="14.3" fill="#d4d4d4" stroke-width="1.8"/>
<text x="543.3" y="314.4" text-anchor="start" style="font-size:11.55px" >placebo</text>
<clipPath id="c9"><rect x="518" y="323" width="18.5" height="14.3"/></clipPath>
<rect x="518" y="323" width="18.5" height="14.3" fill="#fff" stroke="none"/>
<path clip-path="url(#c9)" d="M516,363.02L538.5,379.67M516,356.22L538.5,372.87M516,349.42L538.5,366.07M516,342.62L538.5,359.27M516,335.82L538.5,352.47M516,329.02L538.5,345.67M516,322.22L538.5,338.87M516,315.42L538.5,332.07M516,308.62L538.5,325.27M516,301.82L538.5,318.47" stroke-width="2.35" fill="none"/>
<rect x="518" y="323" width="18.5" height="14.3" fill="none" stroke-width="1.8"/>
<text x="543.3" y="332.7" text-anchor="start" style="font-size:11.55px" >40 mg/kg cpl-1</text>
<clipPath id="c10"><rect x="518" y="341.6" width="18.5" height="14.3"/></clipPath>
<rect x="518" y="341.6" width="18.5" height="14.3" fill="#fff" stroke="none"/>
<path clip-path="url(#c10)" d="M516,384.58L538.5,367.93M516,377.78L538.5,361.13M516,370.98L538.5,354.33M516,364.18L538.5,347.53M516,357.38L538.5,340.73M516,350.58L538.5,333.93M516,343.78L538.5,327.13M516,336.98L538.5,320.33M516,330.18L538.5,313.53M516,323.38L538.5,306.73" stroke-width="2.35" fill="none"/>
<rect x="518" y="341.6" width="18.5" height="14.3" fill="none" stroke-width="1.8"/>
<text x="543.3" y="350.9" text-anchor="start" style="font-size:11.55px" >100 mg/kg benzylpenicillin</text>
<clipPath id="c11"><rect x="518" y="360.1" width="18.5" height="14.3"/></clipPath>
<rect x="518" y="360.1" width="18.5" height="14.3" fill="#fff" stroke="none"/>
<path clip-path="url(#c11)" d="M515.2,354.8h2.8v2.8h-2.8zM520.8,354.8h2.8v2.8h-2.8zM526.4,354.8h2.8v2.8h-2.8zM532,354.8h2.8v2.8h-2.8zM518,357.6h2.8v2.8h-2.8zM523.6,357.6h2.8v2.8h-2.8zM529.2,357.6h2.8v2.8h-2.8zM534.8,357.6h2.8v2.8h-2.8zM515.2,360.4h2.8v2.8h-2.8zM520.8,360.4h2.8v2.8h-2.8zM526.4,360.4h2.8v2.8h-2.8zM532,360.4h2.8v2.8h-2.8zM518,363.2h2.8v2.8h-2.8zM523.6,363.2h2.8v2.8h-2.8zM529.2,363.2h2.8v2.8h-2.8zM534.8,363.2h2.8v2.8h-2.8zM515.2,366h2.8v2.8h-2.8zM520.8,366h2.8v2.8h-2.8zM526.4,366h2.8v2.8h-2.8zM532,366h2.8v2.8h-2.8zM518,368.8h2.8v2.8h-2.8zM523.6,368.8h2.8v2.8h-2.8zM529.2,368.8h2.8v2.8h-2.8zM534.8,368.8h2.8v2.8h-2.8zM515.2,371.6h2.8v2.8h-2.8zM520.8,371.6h2.8v2.8h-2.8zM526.4,371.6h2.8v2.8h-2.8zM532,371.6h2.8v2.8h-2.8z" fill="#000" stroke="none"/>
<rect x="518" y="360.1" width="18.5" height="14.3" fill="none" stroke-width="1.8"/>
<text x="543.3" y="369.5" text-anchor="start" style="font-size:11.55px" >40 mg/kg cpl-1 + 100 mg/kg benzylpenicillin</text>
<rect x="514.9" y="534" width="260.8" height="82.1" fill="none" stroke-width="1.9"/>
<rect x="520" y="541.95" width="15.1" height="11.1" fill="#d4d4d4" stroke-width="1.8"/>
<text x="543.4" y="551.3" text-anchor="start" style="font-size:11.65px" >placebo</text>
<clipPath id="c12"><rect x="520" y="560.45" width="15.1" height="11.1"/></clipPath>
<rect x="520" y="560.45" width="15.1" height="11.1" fill="#fff" stroke="none"/>
<path clip-path="url(#c12)" d="M518,597.27L537.1,611.4M518,590.47L537.1,604.6M518,583.67L537.1,597.8M518,576.87L537.1,591M518,570.07L537.1,584.2M518,563.27L537.1,577.4M518,556.47L537.1,570.6M518,549.67L537.1,563.8M518,542.87L537.1,557" stroke-width="2.35" fill="none"/>
<rect x="520" y="560.45" width="15.1" height="11.1" fill="none" stroke-width="1.8"/>
<text x="543.4" y="570" text-anchor="start" style="font-size:11.65px" >40 mg/kg cpl-1</text>
<clipPath id="c13"><rect x="520" y="579.05" width="15.1" height="11.1"/></clipPath>
<rect x="520" y="579.05" width="15.1" height="11.1" fill="#fff" stroke="none"/>
<path clip-path="url(#c13)" d="M518,618.83L537.1,604.7M518,612.03L537.1,597.9M518,605.23L537.1,591.1M518,598.43L537.1,584.3M518,591.63L537.1,577.5M518,584.83L537.1,570.7M518,578.03L537.1,563.9M518,571.23L537.1,557.1M518,564.43L537.1,550.3" stroke-width="2.35" fill="none"/>
<rect x="520" y="579.05" width="15.1" height="11.1" fill="none" stroke-width="1.8"/>
<text x="543.4" y="588.7" text-anchor="start" style="font-size:11.65px" >100 mg/kg benzylpenicillin</text>
<clipPath id="c14"><rect x="520" y="597.85" width="15.1" height="11.1"/></clipPath>
<rect x="520" y="597.85" width="15.1" height="11.1" fill="#fff" stroke="none"/>
<path clip-path="url(#c14)" d="M517.2,594.95h2.8v2.8h-2.8zM522.8,594.95h2.8v2.8h-2.8zM528.4,594.95h2.8v2.8h-2.8zM534,594.95h2.8v2.8h-2.8zM520,597.75h2.8v2.8h-2.8zM525.6,597.75h2.8v2.8h-2.8zM531.2,597.75h2.8v2.8h-2.8zM517.2,600.55h2.8v2.8h-2.8zM522.8,600.55h2.8v2.8h-2.8zM528.4,600.55h2.8v2.8h-2.8zM534,600.55h2.8v2.8h-2.8zM520,603.35h2.8v2.8h-2.8zM525.6,603.35h2.8v2.8h-2.8zM531.2,603.35h2.8v2.8h-2.8zM517.2,606.15h2.8v2.8h-2.8zM522.8,606.15h2.8v2.8h-2.8zM528.4,606.15h2.8v2.8h-2.8zM534,606.15h2.8v2.8h-2.8zM520,608.95h2.8v2.8h-2.8zM525.6,608.95h2.8v2.8h-2.8zM531.2,608.95h2.8v2.8h-2.8z" fill="#000" stroke="none"/>
<rect x="520" y="597.85" width="15.1" height="11.1" fill="none" stroke-width="1.8"/>
<text x="543.4" y="607.4" text-anchor="start" style="font-size:11.65px" >40 mg/kg cpl-1 + 100 mg/kg benzylpenicillin</text>
<line x1="57.5" y1="538.5" x2="57.5" y2="679.8" stroke-width="1.75" />
<line x1="51.5" y1="679" x2="152.2" y2="679" stroke-width="1.8" />
<line x1="51.5" y1="538.5" x2="57.5" y2="538.5" stroke-width="1.5" />
<text x="49.9" y="542.1" text-anchor="end" style="font-size:10.3px;font-weight:bold" >1500</text>
<line x1="51.5" y1="585.33" x2="57.5" y2="585.33" stroke-width="1.5" />
<text x="49.9" y="588.93" text-anchor="end" style="font-size:10.3px;font-weight:bold" >1000</text>
<line x1="51.5" y1="632.17" x2="57.5" y2="632.17" stroke-width="1.5" />
<text x="49.9" y="635.77" text-anchor="end" style="font-size:10.3px;font-weight:bold" >500</text>
<line x1="51.5" y1="679" x2="57.5" y2="679" stroke-width="1.5" />
<text x="49.9" y="682.6" text-anchor="end" style="font-size:10.3px;font-weight:bold" >0</text>
<line x1="54" y1="561.92" x2="57.5" y2="561.92" stroke-width="1.5" />
<line x1="54" y1="608.75" x2="57.5" y2="608.75" stroke-width="1.5" />
<line x1="54" y1="655.58" x2="57.5" y2="655.58" stroke-width="1.5" />
<line x1="72" y1="615.5" x2="72" y2="579.6" stroke-width="1.4" />
<line x1="68.7" y1="579.6" x2="75.3" y2="579.6" stroke-width="1.4" />
<rect x="66.35" y="616.45" width="11.3" height="62.5" fill="#d4d4d4" stroke-width="1.9"/>
<line x1="93.65" y1="652.9" x2="93.65" y2="635.7" stroke-width="1.4" />
<line x1="90.35" y1="635.7" x2="96.95" y2="635.7" stroke-width="1.4" />
<clipPath id="c15"><rect x="87.75" y="653.85" width="11.8" height="25.1"/></clipPath>
<rect x="87.75" y="653.85" width="11.8" height="25.1" fill="#fff" stroke="none"/>
<path clip-path="url(#c15)" d="M85.75,697.87L101.55,709.56M85.75,691.07L101.55,702.76M85.75,684.27L101.55,695.96M85.75,677.47L101.55,689.16M85.75,670.67L101.55,682.36M85.75,663.87L101.55,675.56M85.75,657.07L101.55,668.76M85.75,650.27L101.55,661.96M85.75,643.47L101.55,655.16M85.75,636.67L101.55,648.36" stroke-width="2.35" fill="none"/>
<rect x="87.75" y="653.85" width="11.8" height="25.1" fill="none" stroke-width="1.9"/>
<line x1="115.3" y1="642.5" x2="115.3" y2="606.9" stroke-width="1.4" />
<line x1="112" y1="606.9" x2="118.6" y2="606.9" stroke-width="1.4" />
<clipPath id="c16"><rect x="109.25" y="643.45" width="12.1" height="35.5"/></clipPath>
<rect x="109.25" y="643.45" width="12.1" height="35.5" fill="#fff" stroke="none"/>
<path clip-path="url(#c16)" d="M107.25,700.83L123.35,688.92M107.25,694.03L123.35,682.12M107.25,687.23L123.35,675.32M107.25,680.43L123.35,668.52M107.25,673.63L123.35,661.72M107.25,666.83L123.35,654.92M107.25,660.03L123.35,648.12M107.25,653.23L123.35,641.32M107.25,646.43L123.35,634.52M107.25,639.63L123.35,627.72M107.25,632.83L123.35,620.92M107.25,626.03L123.35,614.12" stroke-width="2.35" fill="none"/>
<rect x="109.25" y="643.45" width="12.1" height="35.5" fill="none" stroke-width="1.9"/>
<line x1="137" y1="662.9" x2="137" y2="644.3" stroke-width="1.4" />
<line x1="133.7" y1="644.3" x2="140.3" y2="644.3" stroke-width="1.4" />
<clipPath id="c17"><rect x="131.25" y="663.85" width="11.5" height="15.1"/></clipPath>
<rect x="131.25" y="663.85" width="11.5" height="15.1" fill="#fff" stroke="none"/>
<path clip-path="url(#c17)" d="M128.45,659.35h2.8v2.8h-2.8zM134.05,659.35h2.8v2.8h-2.8zM139.65,659.35h2.8v2.8h-2.8zM131.25,662.15h2.8v2.8h-2.8zM136.85,662.15h2.8v2.8h-2.8zM142.45,662.15h2.8v2.8h-2.8zM128.45,664.95h2.8v2.8h-2.8zM134.05,664.95h2.8v2.8h-2.8zM139.65,664.95h2.8v2.8h-2.8zM131.25,667.75h2.8v2.8h-2.8zM136.85,667.75h2.8v2.8h-2.8zM142.45,667.75h2.8v2.8h-2.8zM128.45,670.55h2.8v2.8h-2.8zM134.05,670.55h2.8v2.8h-2.8zM139.65,670.55h2.8v2.8h-2.8zM131.25,673.35h2.8v2.8h-2.8zM136.85,673.35h2.8v2.8h-2.8zM142.45,673.35h2.8v2.8h-2.8zM128.45,676.15h2.8v2.8h-2.8zM134.05,676.15h2.8v2.8h-2.8zM139.65,676.15h2.8v2.8h-2.8zM131.25,678.95h2.8v2.8h-2.8zM136.85,678.95h2.8v2.8h-2.8zM142.45,678.95h2.8v2.8h-2.8z" fill="#000" stroke="none"/>
<rect x="131.25" y="663.85" width="11.5" height="15.1" fill="none" stroke-width="1.9"/>
<circle cx="72" cy="579" r="1.95" fill="#fff" stroke-width="1.45"/>
<circle cx="72" cy="586" r="1.95" fill="#fff" stroke-width="1.45"/>
<circle cx="66.7" cy="620.8" r="1.95" fill="#fff" stroke-width="1.45"/>
<circle cx="77.2" cy="622.2" r="1.95" fill="#fff" stroke-width="1.45"/>
<circle cx="72" cy="664.9" r="1.95" fill="#fff" stroke-width="1.45"/>
<circle cx="93.6" cy="624.8" r="1.95" fill="#fff" stroke-width="1.45"/>
<circle cx="93.6" cy="644.4" r="1.95" fill="#fff" stroke-width="1.45"/>
<circle cx="93.6" cy="648.9" r="1.95" fill="#fff" stroke-width="1.45"/>
<circle cx="88.5" cy="668.3" r="1.95" fill="#fff" stroke-width="1.45"/>
<circle cx="93.6" cy="660.7" r="1.95" fill="#fff" stroke-width="1.45"/>
<circle cx="96.5" cy="664.3" r="1.95" fill="#fff" stroke-width="1.45"/>
<circle cx="99" cy="666.7" r="1.95" fill="#fff" stroke-width="1.45"/>
<circle cx="115.3" cy="570" r="1.95" fill="#fff" stroke-width="1.45"/>
<circle cx="115.3" cy="610.8" r="1.95" fill="#fff" stroke-width="1.45"/>
<circle cx="115.3" cy="643.5" r="1.95" fill="#fff" stroke-width="1.45"/>
<circle cx="115.3" cy="648.5" r="1.95" fill="#fff" stroke-width="1.45"/>
<circle cx="115.3" cy="658" r="1.95" fill="#fff" stroke-width="1.45"/>
<circle cx="110.1" cy="670.3" r="1.95" fill="#fff" stroke-width="1.45"/>
<circle cx="115.3" cy="668" r="1.95" fill="#fff" stroke-width="1.45"/>
<circle cx="120.6" cy="669.4" r="1.95" fill="#fff" stroke-width="1.45"/>
<circle cx="136.9" cy="639.5" r="1.95" fill="#fff" stroke-width="1.45"/>
<circle cx="136.9" cy="646.2" r="1.95" fill="#fff" stroke-width="1.45"/>
<circle cx="136.9" cy="656.5" r="1.95" fill="#fff" stroke-width="1.45"/>
<circle cx="131.5" cy="678.9" r="1.95" fill="#fff" stroke-width="1.45"/>
<circle cx="136.9" cy="676.1" r="1.95" fill="#fff" stroke-width="1.45"/>
<circle cx="141.8" cy="678.9" r="1.95" fill="#fff" stroke-width="1.45"/>
<polyline points="69.9,562.5 69.9,489.3 136.9,489.3 136.9,512.7" fill="none" stroke-width="1.35" />
<path d="M103.5,477.15L103.5,483.65M100.69,478.77L106.31,482.02M100.69,482.02L106.31,478.77" stroke-width="1.45" fill="none"/><circle cx="103.5" cy="480.4" r="1.05" stroke="none"/>
<polyline points="93.6,616.7 93.6,523.7 136.9,523.7 136.9,531.4" fill="none" stroke-width="1.35" />
<text x="115.15" y="517.1" text-anchor="middle" style="font-size:11.7px" >&gt;.999</text>
<polyline points="115.2,560.8 115.2,553.5 136.9,553.5 136.9,632.9" fill="none" stroke-width="1.35" />
<text x="126.2" y="546.8" text-anchor="middle" style="font-size:11.7px" >.569</text>
<text x="104.8" y="464.3" text-anchor="middle" style="font-size:13.75px;font-weight:bold" >IL-6 Heart</text>
<line x1="218" y1="538" x2="218" y2="679.3" stroke-width="1.75" />
<line x1="212" y1="678.5" x2="312.4" y2="678.5" stroke-width="1.8" />
<line x1="212" y1="538" x2="218" y2="538" stroke-width="1.5" />
<text x="210.4" y="541.6" text-anchor="end" style="font-size:10.3px;font-weight:bold" >1200</text>
<line x1="212" y1="584.83" x2="218" y2="584.83" stroke-width="1.5" />
<text x="210.4" y="588.43" text-anchor="end" style="font-size:10.3px;font-weight:bold" >800</text>
<line x1="212" y1="631.67" x2="218" y2="631.67" stroke-width="1.5" />
<text x="210.4" y="635.27" text-anchor="end" style="font-size:10.3px;font-weight:bold" >400</text>
<line x1="212" y1="678.5" x2="218" y2="678.5" stroke-width="1.5" />
<text x="210.4" y="682.1" text-anchor="end" style="font-size:10.3px;font-weight:bold" >0</text>
<line x1="214.5" y1="561.42" x2="218" y2="561.42" stroke-width="1.5" />
<line x1="214.5" y1="608.25" x2="218" y2="608.25" stroke-width="1.5" />
<line x1="214.5" y1="655.08" x2="218" y2="655.08" stroke-width="1.5" />
<line x1="232.3" y1="609.7" x2="232.3" y2="580.8" stroke-width="1.4" />
<line x1="229" y1="580.8" x2="235.6" y2="580.8" stroke-width="1.4" />
<rect x="226.65" y="610.65" width="11.3" height="67.8" fill="#d4d4d4" stroke-width="1.9"/>
<line x1="254" y1="648.4" x2="254" y2="622.5" stroke-width="1.4" />
<line x1="250.7" y1="622.5" x2="257.3" y2="622.5" stroke-width="1.4" />
<clipPath id="c18"><rect x="248.35" y="649.35" width="11.3" height="29.1"/></clipPath>
<rect x="248.35" y="649.35" width="11.3" height="29.1" fill="#fff" stroke="none"/>
<path clip-path="url(#c18)" d="M246.35,697.37L261.65,708.69M246.35,690.57L261.65,701.89M246.35,683.77L261.65,695.09M246.35,676.97L261.65,688.29M246.35,670.17L261.65,681.49M246.35,663.37L261.65,674.69M246.35,656.57L261.65,667.89M246.35,649.77L261.65,661.09M246.35,642.97L261.65,654.29M246.35,636.17L261.65,647.49M246.35,629.37L261.65,640.69" stroke-width="2.35" fill="none"/>
<rect x="248.35" y="649.35" width="11.3" height="29.1" fill="none" stroke-width="1.9"/>
<line x1="275.5" y1="662.5" x2="275.5" y2="656" stroke-width="1.4" />
<line x1="272.2" y1="656" x2="278.8" y2="656" stroke-width="1.4" />
<clipPath id="c19"><rect x="269.65" y="663.45" width="11.7" height="15"/></clipPath>
<rect x="269.65" y="663.45" width="11.7" height="15" fill="#fff" stroke="none"/>
<path clip-path="url(#c19)" d="M267.65,700.33L283.35,688.71M267.65,693.53L283.35,681.91M267.65,686.73L283.35,675.11M267.65,679.93L283.35,668.31M267.65,673.13L283.35,661.51M267.65,666.33L283.35,654.71M267.65,659.53L283.35,647.91M267.65,652.73L283.35,641.11M267.65,645.93L283.35,634.31" stroke-width="2.35" fill="none"/>
<rect x="269.65" y="663.45" width="11.7" height="15" fill="none" stroke-width="1.9"/>
<line x1="297.1" y1="670.1" x2="297.1" y2="661.6" stroke-width="1.4" />
<line x1="293.8" y1="661.6" x2="300.4" y2="661.6" stroke-width="1.4" />
<clipPath id="c20"><rect x="291.15" y="671.05" width="11.9" height="7.4"/></clipPath>
<rect x="291.15" y="671.05" width="11.9" height="7.4" fill="#fff" stroke="none"/>
<path clip-path="url(#c20)" d="M288.35,667.25h2.8v2.8h-2.8zM293.95,667.25h2.8v2.8h-2.8zM299.55,667.25h2.8v2.8h-2.8zM291.15,670.05h2.8v2.8h-2.8zM296.75,670.05h2.8v2.8h-2.8zM302.35,670.05h2.8v2.8h-2.8zM288.35,672.85h2.8v2.8h-2.8zM293.95,672.85h2.8v2.8h-2.8zM299.55,672.85h2.8v2.8h-2.8zM291.15,675.65h2.8v2.8h-2.8zM296.75,675.65h2.8v2.8h-2.8zM302.35,675.65h2.8v2.8h-2.8zM288.35,678.45h2.8v2.8h-2.8zM293.95,678.45h2.8v2.8h-2.8zM299.55,678.45h2.8v2.8h-2.8z" fill="#000" stroke="none"/>
<rect x="291.15" y="671.05" width="11.9" height="7.4" fill="none" stroke-width="1.9"/>
<circle cx="232.3" cy="565.4" r="1.95" fill="#fff" stroke-width="1.45"/>
<circle cx="232.3" cy="597.5" r="1.95" fill="#fff" stroke-width="1.45"/>
<circle cx="232.3" cy="619.2" r="1.95" fill="#fff" stroke-width="1.45"/>
<circle cx="227.2" cy="631.8" r="1.95" fill="#fff" stroke-width="1.45"/>
<circle cx="237.5" cy="631" r="1.95" fill="#fff" stroke-width="1.45"/>
<circle cx="248.7" cy="614.4" r="1.95" fill="#fff" stroke-width="1.45"/>
<circle cx="259.2" cy="618.2" r="1.95" fill="#fff" stroke-width="1.45"/>
<circle cx="254" cy="656.9" r="1.95" fill="#fff" stroke-width="1.45"/>
<circle cx="248.7" cy="664.1" r="1.95" fill="#fff" stroke-width="1.45"/>
<circle cx="259.2" cy="666" r="1.95" fill="#fff" stroke-width="1.45"/>
<circle cx="248.7" cy="669.7" r="1.95" fill="#fff" stroke-width="1.45"/>
<circle cx="275.3" cy="649.3" r="1.95" fill="#fff" stroke-width="1.45"/>
<circle cx="270.6" cy="659.7" r="1.95" fill="#fff" stroke-width="1.45"/>
<circle cx="280.4" cy="658.8" r="1.95" fill="#fff" stroke-width="1.45"/>
<circle cx="275.7" cy="662.2" r="1.95" fill="#fff" stroke-width="1.45"/>
<circle cx="270.6" cy="669.2" r="1.95" fill="#fff" stroke-width="1.45"/>
<circle cx="275.7" cy="667.8" r="1.95" fill="#fff" stroke-width="1.45"/>
<circle cx="280.8" cy="668.2" r="1.95" fill="#fff" stroke-width="1.45"/>
<circle cx="292.3" cy="657.8" r="1.95" fill="#fff" stroke-width="1.45"/>
<circle cx="302.5" cy="661.2" r="1.95" fill="#fff" stroke-width="1.45"/>
<circle cx="297.4" cy="665.9" r="1.95" fill="#fff" stroke-width="1.45"/>
<circle cx="292.3" cy="673.5" r="1.95" fill="#fff" stroke-width="1.45"/>
<circle cx="297.4" cy="673.5" r="1.95" fill="#fff" stroke-width="1.45"/>
<circle cx="302.5" cy="673.5" r="1.95" fill="#fff" stroke-width="1.45"/>
<circle cx="292.3" cy="678.6" r="1.95" fill="#fff" stroke-width="1.45"/>
<circle cx="302.5" cy="676.7" r="1.95" fill="#fff" stroke-width="1.45"/>
<polyline points="232.3,551.6 232.3,495.2 297,495.2 297,522.4" fill="none" stroke-width="1.35" />
<path d="M256.3,482.95L256.3,489.45M253.49,484.57L259.11,487.82M253.49,487.82L259.11,484.57" stroke-width="1.45" fill="none"/><circle cx="256.3" cy="486.2" r="1.05" stroke="none"/>
<path d="M264.6,482.95L264.6,489.45M261.79,484.57L267.41,487.82M261.79,487.82L267.41,484.57" stroke-width="1.45" fill="none"/><circle cx="264.6" cy="486.2" r="1.05" stroke="none"/>
<path d="M272.9,482.95L272.9,489.45M270.09,484.57L275.71,487.82M270.09,487.82L275.71,484.57" stroke-width="1.45" fill="none"/><circle cx="272.9" cy="486.2" r="1.05" stroke="none"/>
<polyline points="253.6,592 253.6,539.5 297,539.5 297,563.6" fill="none" stroke-width="1.35" />
<text x="275.6" y="533.3" text-anchor="middle" style="font-size:11.7px" >.140</text>
<polyline points="275.5,640.9 275.5,591.1 296.8,591.1 296.8,649.1" fill="none" stroke-width="1.35" />
<text x="286.2" y="585.3" text-anchor="middle" style="font-size:11.7px" >&gt;.999</text>
<text x="264.95" y="464.3" text-anchor="middle" style="font-size:13.75px;font-weight:bold" >IL-6 Spleen</text>
<line x1="393.8" y1="538.1" x2="393.8" y2="679.4" stroke-width="1.75" />
<line x1="387.8" y1="678.6" x2="488.4" y2="678.6" stroke-width="1.8" />
<line x1="387.8" y1="538.1" x2="393.8" y2="538.1" stroke-width="1.5" />
<text x="386.2" y="541.7" text-anchor="end" style="font-size:10.3px;font-weight:bold" >400</text>
<line x1="387.8" y1="573.23" x2="393.8" y2="573.23" stroke-width="1.5" />
<text x="386.2" y="576.83" text-anchor="end" style="font-size:10.3px;font-weight:bold" >300</text>
<line x1="387.8" y1="608.35" x2="393.8" y2="608.35" stroke-width="1.5" />
<text x="386.2" y="611.95" text-anchor="end" style="font-size:10.3px;font-weight:bold" >200</text>
<line x1="387.8" y1="643.48" x2="393.8" y2="643.48" stroke-width="1.5" />
<text x="386.2" y="647.08" text-anchor="end" style="font-size:10.3px;font-weight:bold" >100</text>
<line x1="387.8" y1="678.6" x2="393.8" y2="678.6" stroke-width="1.5" />
<text x="386.2" y="682.2" text-anchor="end" style="font-size:10.3px;font-weight:bold" >0</text>
<line x1="390.3" y1="555.66" x2="393.8" y2="555.66" stroke-width="1.5" />
<line x1="390.3" y1="590.79" x2="393.8" y2="590.79" stroke-width="1.5" />
<line x1="390.3" y1="625.91" x2="393.8" y2="625.91" stroke-width="1.5" />
<line x1="390.3" y1="661.04" x2="393.8" y2="661.04" stroke-width="1.5" />
<line x1="408.25" y1="645" x2="408.25" y2="615.6" stroke-width="1.4" />
<line x1="404.95" y1="615.6" x2="411.55" y2="615.6" stroke-width="1.4" />
<rect x="402.25" y="645.95" width="12" height="32.6" fill="#d4d4d4" stroke-width="1.9"/>
<line x1="429.95" y1="641.7" x2="429.95" y2="607.8" stroke-width="1.4" />
<line x1="426.65" y1="607.8" x2="433.25" y2="607.8" stroke-width="1.4" />
<clipPath id="c21"><rect x="424.35" y="642.65" width="11.2" height="35.9"/></clipPath>
<rect x="424.35" y="642.65" width="11.2" height="35.9" fill="#fff" stroke="none"/>
<path clip-path="url(#c21)" d="M422.35,697.47L437.55,708.72M422.35,690.67L437.55,701.92M422.35,683.87L437.55,695.12M422.35,677.07L437.55,688.32M422.35,670.27L437.55,681.52M422.35,663.47L437.55,674.72M422.35,656.67L437.55,667.92M422.35,649.87L437.55,661.12M422.35,643.07L437.55,654.32M422.35,636.27L437.55,647.52M422.35,629.47L437.55,640.72M422.35,622.67L437.55,633.92" stroke-width="2.35" fill="none"/>
<rect x="424.35" y="642.65" width="11.2" height="35.9" fill="none" stroke-width="1.9"/>
<line x1="451.85" y1="617.6" x2="451.85" y2="579" stroke-width="1.4" />
<line x1="448.55" y1="579" x2="455.15" y2="579" stroke-width="1.4" />
<clipPath id="c22"><rect x="445.95" y="618.55" width="11.8" height="60"/></clipPath>
<rect x="445.95" y="618.55" width="11.8" height="60" fill="#fff" stroke="none"/>
<path clip-path="url(#c22)" d="M443.95,700.43L459.75,688.74M443.95,693.63L459.75,681.94M443.95,686.83L459.75,675.14M443.95,680.03L459.75,668.34M443.95,673.23L459.75,661.54M443.95,666.43L459.75,654.74M443.95,659.63L459.75,647.94M443.95,652.83L459.75,641.14M443.95,646.03L459.75,634.34M443.95,639.23L459.75,627.54M443.95,632.43L459.75,620.74M443.95,625.63L459.75,613.94M443.95,618.83L459.75,607.14M443.95,612.03L459.75,600.34M443.95,605.23L459.75,593.54" stroke-width="2.35" fill="none"/>
<rect x="445.95" y="618.55" width="11.8" height="60" fill="none" stroke-width="1.9"/>
<line x1="473.2" y1="666.4" x2="473.2" y2="655.4" stroke-width="1.4" />
<line x1="469.9" y1="655.4" x2="476.5" y2="655.4" stroke-width="1.4" />
<clipPath id="c23"><rect x="467.45" y="667.35" width="11.5" height="11.2"/></clipPath>
<rect x="467.45" y="667.35" width="11.5" height="11.2" fill="#fff" stroke="none"/>
<path clip-path="url(#c23)" d="M464.65,664.55h2.8v2.8h-2.8zM470.25,664.55h2.8v2.8h-2.8zM475.85,664.55h2.8v2.8h-2.8zM467.45,667.35h2.8v2.8h-2.8zM473.05,667.35h2.8v2.8h-2.8zM478.65,667.35h2.8v2.8h-2.8zM464.65,670.15h2.8v2.8h-2.8zM470.25,670.15h2.8v2.8h-2.8zM475.85,670.15h2.8v2.8h-2.8zM467.45,672.95h2.8v2.8h-2.8zM473.05,672.95h2.8v2.8h-2.8zM478.65,672.95h2.8v2.8h-2.8zM464.65,675.75h2.8v2.8h-2.8zM470.25,675.75h2.8v2.8h-2.8zM475.85,675.75h2.8v2.8h-2.8zM467.45,678.55h2.8v2.8h-2.8zM473.05,678.55h2.8v2.8h-2.8zM478.65,678.55h2.8v2.8h-2.8z" fill="#000" stroke="none"/>
<rect x="467.45" y="667.35" width="11.5" height="11.2" fill="none" stroke-width="1.9"/>
<circle cx="408.3" cy="594.1" r="1.95" fill="#fff" stroke-width="1.45"/>
<circle cx="408.3" cy="648.5" r="1.95" fill="#fff" stroke-width="1.45"/>
<circle cx="408.3" cy="655.2" r="1.95" fill="#fff" stroke-width="1.45"/>
<circle cx="403.2" cy="663.6" r="1.95" fill="#fff" stroke-width="1.45"/>
<circle cx="413.6" cy="661.3" r="1.95" fill="#fff" stroke-width="1.45"/>
<circle cx="429.9" cy="584.9" r="1.95" fill="#fff" stroke-width="1.45"/>
<circle cx="429.9" cy="624" r="1.95" fill="#fff" stroke-width="1.45"/>
<circle cx="429.9" cy="639.1" r="1.95" fill="#fff" stroke-width="1.45"/>
<circle cx="429.9" cy="655.2" r="1.95" fill="#fff" stroke-width="1.45"/>
<circle cx="429.9" cy="668.1" r="1.95" fill="#fff" stroke-width="1.45"/>
<circle cx="429.9" cy="677.3" r="1.95" fill="#fff" stroke-width="1.45"/>
<circle cx="446.3" cy="562.7" r="1.95" fill="#fff" stroke-width="1.45"/>
<circle cx="456.7" cy="562.7" r="1.95" fill="#fff" stroke-width="1.45"/>
<circle cx="451.4" cy="586.6" r="1.95" fill="#fff" stroke-width="1.45"/>
<circle cx="451.4" cy="617.2" r="1.95" fill="#fff" stroke-width="1.45"/>
<circle cx="446.3" cy="628.9" r="1.95" fill="#fff" stroke-width="1.45"/>
<circle cx="456.7" cy="629.3" r="1.95" fill="#fff" stroke-width="1.45"/>
<circle cx="451.4" cy="646" r="1.95" fill="#fff" stroke-width="1.45"/>
<circle cx="446.3" cy="659.3" r="1.95" fill="#fff" stroke-width="1.45"/>
<circle cx="456.7" cy="659.3" r="1.95" fill="#fff" stroke-width="1.45"/>
<circle cx="467.8" cy="653" r="1.95" fill="#fff" stroke-width="1.45"/>
<circle cx="478.2" cy="655.1" r="1.95" fill="#fff" stroke-width="1.45"/>
<circle cx="467.8" cy="659" r="1.95" fill="#fff" stroke-width="1.45"/>
<circle cx="473" cy="668.1" r="1.95" fill="#fff" stroke-width="1.45"/>
<circle cx="473" cy="672.6" r="1.95" fill="#fff" stroke-width="1.45"/>
<circle cx="467.8" cy="678.9" r="1.95" fill="#fff" stroke-width="1.45"/>
<circle cx="478.2" cy="677.2" r="1.95" fill="#fff" stroke-width="1.45"/>
<polyline points="408.1,586.2 408.1,493 472.9,493 472.9,508.8" fill="none" stroke-width="1.35" />
<text x="440.5" y="486.3" text-anchor="middle" style="font-size:11.7px" >.706</text>
<polyline points="429.8,576.4 429.8,518.8 472.9,518.8 472.9,534.5" fill="none" stroke-width="1.35" />
<text x="451.4" y="511.7" text-anchor="middle" style="font-size:11.7px" >.467</text>
<polyline points="451.5,552.9 451.5,545.5 472.9,545.5 472.9,637.2" fill="none" stroke-width="1.35" />
<path d="M462.4,532.95L462.4,539.45M459.59,534.58L465.21,537.83M459.59,537.83L465.21,534.58" stroke-width="1.45" fill="none"/><circle cx="462.4" cy="536.2" r="1.05" stroke="none"/>
<text x="440.9" y="464.3" text-anchor="middle" style="font-size:13.75px;font-weight:bold" >IL-6 Brain</text>
<text x="16.2" y="607.9" text-anchor="middle" style="font-size:11.6px;font-weight:bold" transform="rotate(-90 16.2 607.9)" >Concentration (pg/mL)</text>
<text x="176.6" y="607.9" text-anchor="middle" style="font-size:11.6px;font-weight:bold" transform="rotate(-90 176.6 607.9)" >Concentration (pg/mL)</text>
<text x="357.4" y="607.9" text-anchor="middle" style="font-size:11.6px;font-weight:bold" transform="rotate(-90 357.4 607.9)" >Concentration (pg/mL)</text>
</g>
</svg>
</body></html>
